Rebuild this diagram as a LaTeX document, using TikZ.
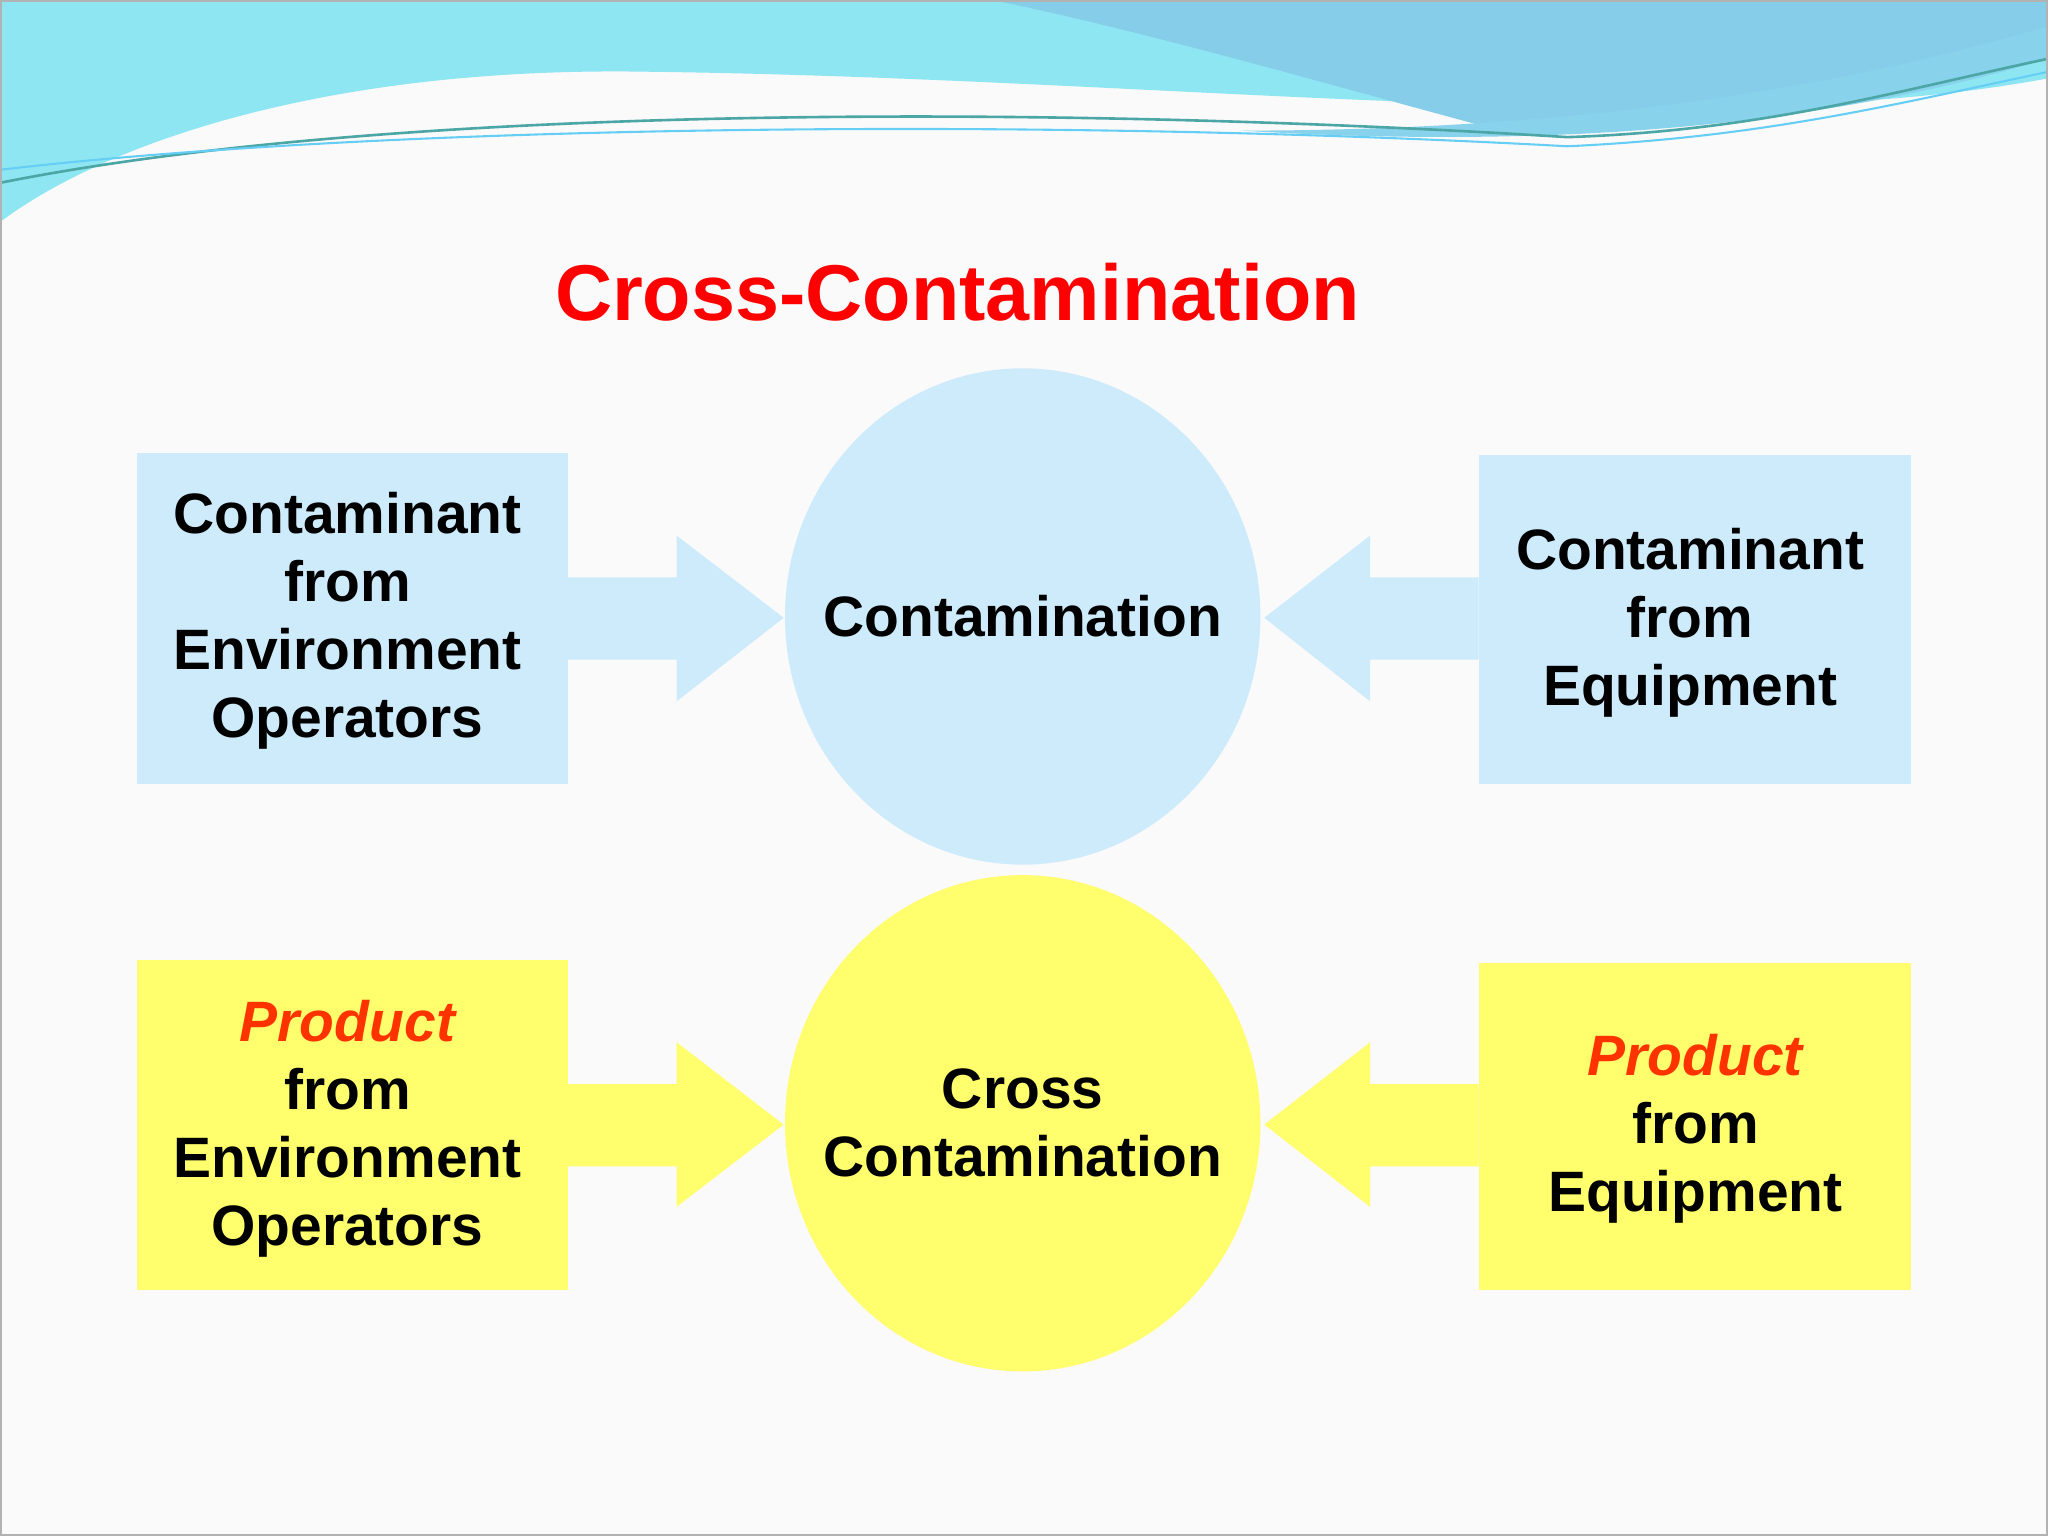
\documentclass[tikz,border=0pt]{standalone}
\usepackage{fontspec}
\setmainfont{Liberation Sans}
\usetikzlibrary{shapes.geometric}
\definecolor{lb}{HTML}{CDEBFB}
\definecolor{yl}{HTML}{FFFF6E}
\definecolor{prod}{HTML}{FF3300}
\definecolor{w1}{HTML}{8EE6F2}
\definecolor{w2}{HTML}{86CDEA}
\begin{document}
\begin{tikzpicture}[x=0.5pt,y=-0.5pt,
  lbl/.style={font=\bfseries\fontsize{21.8}{26}\selectfont,align=center,text=black},
  circ/.style={ellipse,minimum width=182pt,minimum height=190pt,inner sep=0pt}]
\useasboundingbox (0,0) rectangle (1568,1176);
\fill[white!96!gray] (0,0) rectangle (1568,1176);
% top waves
\fill[w1] (0,0) -- (1568,0) -- (1568,60) .. controls (1300,110) and (900,60) .. (500,55) .. controls (250,50) and (80,110) .. (0,170) -- cycle;
\fill[w2] (760,0) -- (1568,0) -- (1568,25) .. controls (1400,80) and (1250,100) .. (1130,95) .. controls (1000,60) and (880,25) .. (760,0) -- cycle;
\fill[w2!80!w1] (950,100) .. controls (1200,100) and (1400,70) .. (1568,20) -- (1568,45) .. controls (1400,95) and (1200,115) .. (950,100) -- cycle;
\draw[teal!70,line width=1pt] (0,140) .. controls (300,80) and (800,80) .. (1200,105) .. controls (1350,100) and (1450,70) .. (1568,45);
\draw[cyan!60,line width=0.8pt] (0,130) .. controls (300,95) and (800,90) .. (1200,112) .. controls (1350,105) and (1450,80) .. (1568,55);
\draw[gray!60,line width=1pt] (0.5,0.5) rectangle (1567.5,1175.5);
% title
\node[font=\bfseries\fontsize{30.3}{36}\selectfont,text=red] (title) at (733,224) {Cross-Contamination};
% top row
\fill[lb] (105,347) rectangle (435,600);
\node[lbl] (tl) at (266,475) {Contaminant\\from\\Environment\\Operators};
\fill[lb] (1132,348) rectangle (1463,600);
\node[lbl] (tr) at (1294,477) {Contaminant\\from\\Equipment};
\node[circ,fill=lb] (c1) at (783,472) {};
\node[lbl] at (c1) {Contamination};
\fill[lb] (435,442) -- (518,442) -- (518,410) -- (600,473) -- (518,537) -- (518,505) -- (435,505) -- cycle;
\fill[lb] (1132,442) -- (1049,442) -- (1049,410) -- (968,473) -- (1049,537) -- (1049,505) -- (1132,505) -- cycle;
% bottom row
\fill[yl] (105,735) rectangle (435,988);
\node[lbl] (bl) at (266,864) {\textcolor{prod}{\itshape Product}\\from\\Environment\\Operators};
\fill[yl] (1132,737) rectangle (1463,988);
\node[lbl] (br) at (1298,864) {\textcolor{prod}{\itshape Product}\\from\\Equipment};
\node[circ,fill=yl] (c2) at (783,860) {};
\node[lbl] at (c2) {Cross\\Contamination};
\fill[yl] (435,830) -- (518,830) -- (518,798) -- (600,861) -- (518,924) -- (518,893) -- (435,893) -- cycle;
\fill[yl] (1132,830) -- (1049,830) -- (1049,798) -- (968,861) -- (1049,924) -- (1049,893) -- (1132,893) -- cycle;
\end{tikzpicture}
\end{document}
